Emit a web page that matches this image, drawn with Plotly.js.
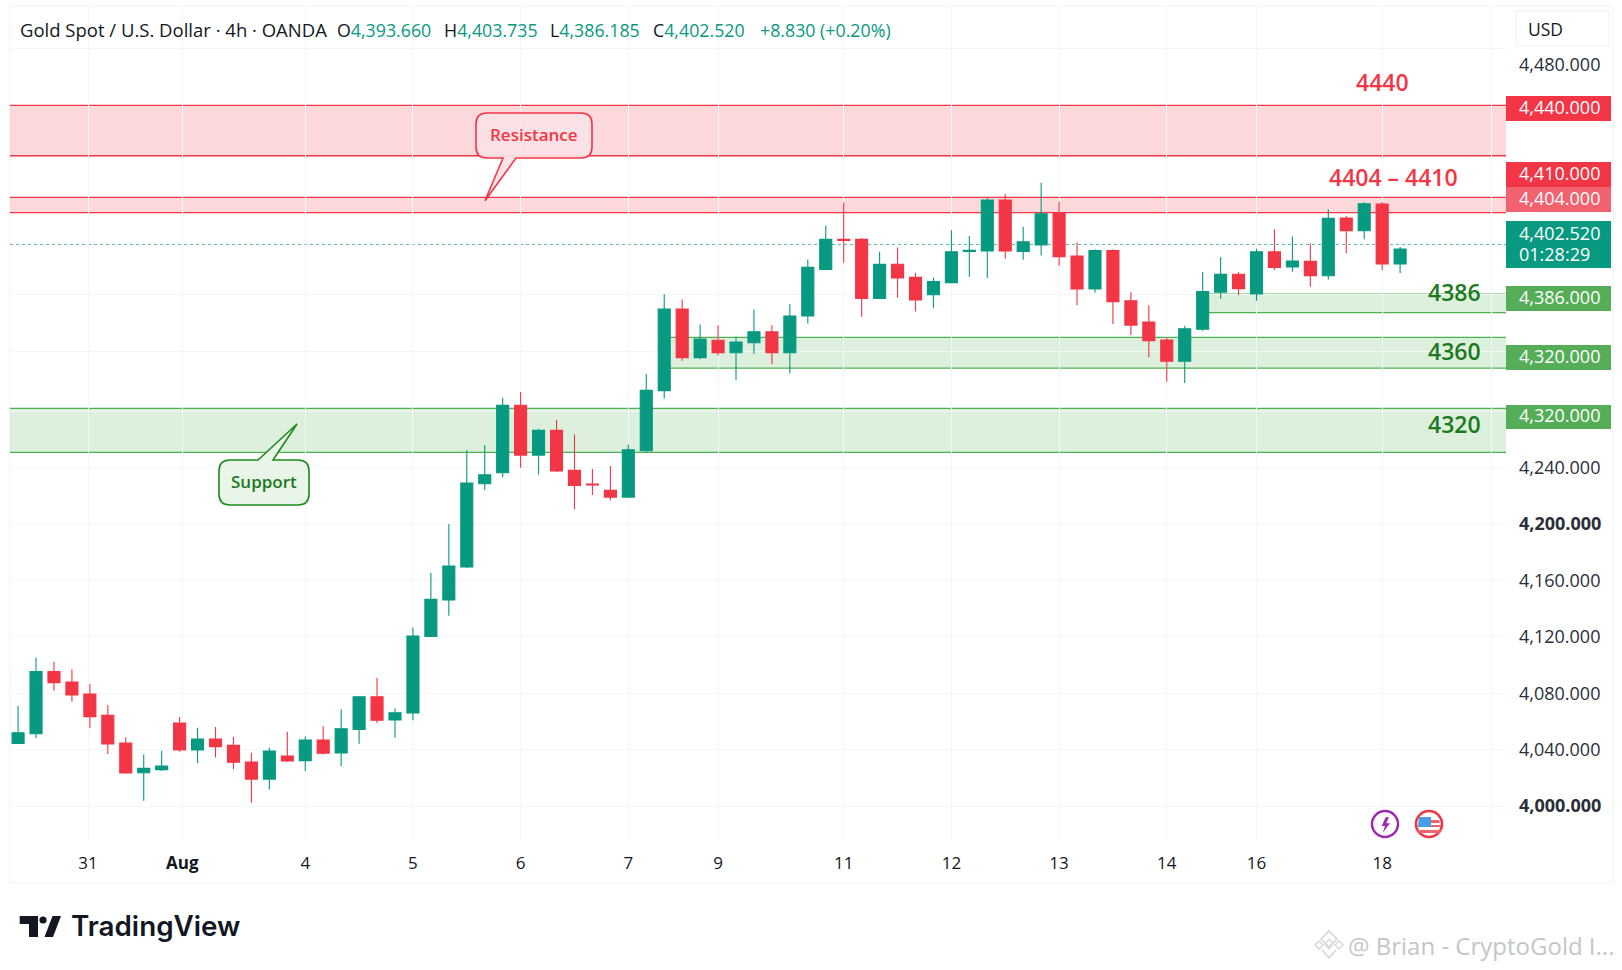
<!DOCTYPE html>
<html><head><meta charset="utf-8">
<script src="https://cdn.plot.ly/plotly-3.0.1.min.js"></script>
<style>html,body{margin:0;padding:0;background:#fff;overflow:hidden}</style>
</head><body><div id="chart" style="width:1622px;height:970px"></div>
<script>
const candleIndex = Array.from({length:78},(_,i)=>i);
const open_ = [4044.4,4051.3,4095.3,4087.9,4079.4,4064.3,4044.7,4023.6,4025.8,4058.9,4039.7,4047.5,4043.0,4031.2,4019.1,4035.5,4032.2,4046.8,4037.6,4054.4,4077.5,4061.0,4066.0,4120.3,4146.1,4169.5,4228.6,4236.4,4284.2,4248.9,4266.4,4238.1,4228.4,4223.9,4219.1,4252.0,4294.6,4352.5,4318.0,4330.3,4321.5,4328.6,4336.4,4321.5,4347.5,4380.6,4401.9,4401.9,4360.0,4384.2,4374.9,4362.6,4371.2,4393.4,4393.6,4429.8,4393.4,4397.9,4420.3,4390.1,4366.7,4393.9,4358.4,4343.3,4330.5,4315.4,4338.1,4364.5,4377.1,4363.1,4393.1,4382.3,4386.3,4376.1,4417.0,4408.0,4427.0,4384.4];
const high_ = [4070.9,4105.4,4102.4,4096.9,4086.5,4071.6,4048.7,4036.6,4039.2,4063.1,4055.6,4056.0,4048.9,4037.8,4041.4,4052.7,4049.4,4056.5,4068.6,4077.8,4091.0,4069.3,4126.7,4165.2,4200.0,4252.5,4256.0,4289.6,4293.6,4267.6,4273.8,4263.6,4239.0,4241.1,4256.3,4306.4,4362.9,4359.3,4341.6,4340.9,4332.9,4352.2,4340.9,4355.8,4387.7,4411.8,4428.1,4402.8,4393.1,4396.2,4378.3,4374.7,4408.3,4404.3,4431.2,4434.0,4410.9,4442.1,4428.4,4399.8,4394.8,4394.8,4364.3,4355.1,4332.4,4340.7,4378.7,4389.4,4378.7,4395.3,4409.0,4404.0,4399.1,4423.2,4418.4,4428.4,4428.4,4396.5];
const low_ = [4044.2,4048.0,4081.8,4074.0,4055.1,4036.9,4022.9,4003.8,4024.8,4038.5,4030.5,4034.5,4026.0,4002.4,4011.8,4031.2,4024.8,4036.6,4028.4,4044.2,4058.9,4048.5,4060.8,4120.3,4135.0,4168.8,4224.1,4233.1,4240.0,4235.2,4236.9,4210.4,4220.6,4216.8,4218.7,4250.6,4289.1,4315.8,4316.8,4319.6,4302.1,4320.8,4313.5,4306.9,4342.3,4379.9,4385.3,4347.0,4359.6,4360.5,4350.8,4353.4,4370.7,4375.4,4374.5,4388.2,4387.5,4390.5,4383.2,4355.1,4364.1,4341.8,4334.0,4318.2,4300.9,4300.0,4337.1,4359.8,4362.2,4358.4,4380.1,4379.0,4368.3,4373.5,4392.0,4401.9,4379.9,4378.0];
const close_ = [4052.0,4095.3,4087.5,4078.7,4063.4,4044.0,4023.4,4026.7,4028.4,4039.7,4047.5,4042.1,4031.0,4019.1,4039.0,4031.9,4046.8,4037.4,4054.8,4077.5,4060.8,4066.2,4120.6,4146.6,4170.2,4229.1,4235.0,4284.2,4248.9,4266.4,4237.6,4227.4,4227.7,4219.1,4252.7,4294.8,4352.5,4318.0,4331.2,4321.5,4329.1,4336.4,4321.5,4347.5,4382.0,4401.9,4401.2,4360.0,4384.2,4374.5,4358.9,4371.9,4393.1,4394.1,4429.8,4393.6,4400.2,4420.1,4389.6,4366.7,4393.9,4357.7,4341.1,4330.0,4315.4,4338.5,4364.8,4377.1,4366.9,4393.1,4382.0,4386.5,4376.1,4416.8,4408.0,4427.2,4384.4,4395.0];

const xTickVals = [3.9,9.15,16,22,28,34,39,46,52,58,64,69,76,82.1];
const xTickText = ['31','<b>Aug</b>','4','5','6','7','9','11','12','13','14','16','18',''];
const yTickVals = [4526,4240,4200,4160,4120,4080,4040,4000];
const yTickText = ['4,480.000','4,240.000','<b>4,200.000</b>','4,160.000','4,120.000','4,080.000','4,040.000','<b>4,000.000</b>'];
const yGridVals = [4537.6,4363,4322.7,4280,4240,4200,4160,4120,4080,4040,4000];

const lastPriceLine = 4398.3;
const zoneTop = [4496.9,4431.7,4363.1,4332.4,4282.0];
const zoneBottom = [4461.2,4420.8,4349.9,4310.6,4250.8];
const zoneStart = [-0.45,-0.45,66.3,36.35,-0.45];
const zoneKind = ['r','r','g','g','g'];

const xMin=-0.45, xMax=82.9, yMin=3975.2, yMax=4567.4;
const W=1622,H=970,L=10,R=116,T=6,B=129;
const fx=p=>(p-L)/(W-L-R), fy=p=>1-(p-T)/(H-T-B);
const FONT='"Open Sans", sans-serif';
const RED='#f23645', TEAL='#089981', GRN='#4caf50', DGRN='#1b7a1b', INK='#131722';

const shapes=[], annotations=[];
const text=(t,x,y,size,color,anchor='left',extra={})=>annotations.push({text:t,xref:'paper',yref:'paper',x:fx(x),y:fy(y),xanchor:anchor,yanchor:'middle',showarrow:false,font:Object.assign({family:FONT,size,color},extra),borderpad:0,borderwidth:0});
const poly=(pts,fill,line,lw=1,close=true,layer='above')=>shapes.push({type:'path',xref:'paper',yref:'paper',layer,path:pts.map((p,i)=>(i?'L':'M')+fx(p[0])+','+fy(p[1])).join(' ')+(close?' Z':''),fillcolor:fill,line:{color:line,width:line==='rgba(0,0,0,0)'?0:lw}});
const circle=(cx,cy,r,fill,line,lw)=>shapes.push({type:'circle',xref:'paper',yref:'paper',layer:'above',x0:fx(cx-r),x1:fx(cx+r),y0:fy(cy+r),y1:fy(cy-r),fillcolor:fill,line:{color:line,width:lw}});
const none='rgba(0,0,0,0)';

// frame
shapes.push({type:'rect',xref:'paper',yref:'paper',layer:'below',x0:0,x1:fx(1613),y0:fy(883),y1:1,line:{color:'#f1f3f6',width:1},fillcolor:none});

// zones
zoneTop.forEach((t,i)=>{
  const c=zoneKind[i]==='r'?RED:GRN, f=zoneKind[i]==='r'?'rgba(242,54,69,0.19)':'rgba(76,175,80,0.19)';
  shapes.push({type:'rect',xref:'x',yref:'y',layer:'below',x0:zoneStart[i],x1:xMax,y0:zoneBottom[i],y1:t,fillcolor:f,line:{width:0}});
  [t,zoneBottom[i]].forEach(v=>shapes.push({type:'line',xref:'x',yref:'y',layer:'below',x0:zoneStart[i],x1:xMax,y0:v,y1:v,line:{color:c,width:1.3}}));
});
// last price line
shapes.push({type:'line',xref:'x',yref:'y',layer:'below',x0:xMin,x1:xMax,y0:lastPriceLine,y1:lastPriceLine,line:{color:'rgba(8,153,129,0.7)',width:1,dash:'dot'}});

// callouts
function bubble(x0,y0,x1,y1,r,tip,b1,b2,top,fill,line){
  const X=fx,Y=fy;
  let d='M'+X(x0+r)+','+Y(y0);
  if(top) d+=' L'+X(b1)+','+Y(y0)+' L'+X(tip[0])+','+Y(tip[1])+' L'+X(b2)+','+Y(y0);
  d+=' L'+X(x1-r)+','+Y(y0)+' Q'+X(x1)+','+Y(y0)+' '+X(x1)+','+Y(y0+r);
  d+=' L'+X(x1)+','+Y(y1-r)+' Q'+X(x1)+','+Y(y1)+' '+X(x1-r)+','+Y(y1);
  if(!top) d+=' L'+X(b2)+','+Y(y1)+' L'+X(tip[0])+','+Y(tip[1])+' L'+X(b1)+','+Y(y1);
  d+=' L'+X(x0+r)+','+Y(y1)+' Q'+X(x0)+','+Y(y1)+' '+X(x0)+','+Y(y1-r);
  d+=' L'+X(x0)+','+Y(y0+r)+' Q'+X(x0)+','+Y(y0)+' '+X(x0+r)+','+Y(y0)+' Z';
  shapes.push({type:'path',xref:'paper',yref:'paper',layer:'above',path:d,fillcolor:fill,line:{color:line,width:1.6}});
}
bubble(476,113,592,158,11,[485,200.7],503,516,false,'rgba(250,226,229,0.92)',RED);
text('Resistance',534,134.5,17,RED,'center',{weight:600});
bubble(219,460,309,505,11,[297,424],258,273,true,'rgba(232,244,232,0.95)','#1d8a1d');
text('Support',264,481.5,17,DGRN,'center',{weight:600});

// level captions
text('4440',1382,82,23,RED,'center',{weight:600});
text('4404 – 4410',1393,177,23,RED,'center',{weight:600});
text('4386',1454,292,23,DGRN,'center',{weight:600});
text('4360',1454,351,23,DGRN,'center',{weight:600});
text('4320',1454,424,23,DGRN,'center',{weight:600});

// price tags
const tags=[[96,121,RED,'4,440.000',107],[162,187,RED,'4,410.000',173],[187,212,'#f2616e','4,404.000',198],[286,311,'#55ad58','4,386.000',296.5],[345,370,'#55ad58','4,320.000',355.5],[405,429,'#55ad58','4,320.000',415]];
tags.forEach(t=>{
  shapes.push({type:'rect',xref:'paper',yref:'paper',layer:'above',x0:fx(1506),x1:fx(1611),y0:fy(t[1]),y1:fy(t[0]),fillcolor:t[2],line:{width:0}});
  text(t[3],1518.5,t[4],18,'#fff','left');
});
shapes.push({type:'rect',xref:'paper',yref:'paper',layer:'above',x0:fx(1506),x1:fx(1611),y0:fy(268),y1:fy(221),fillcolor:TEAL,line:{width:0}});
text('4,402.520',1518.5,233,18,'#fff','left');
text('01:28:29',1518.5,254.5,18,'#fff','left');

// USD button
shapes.push({type:'rect',xref:'paper',yref:'paper',layer:'above',x0:fx(1516),x1:fx(1609),y0:fy(46),y1:fy(11),fillcolor:'#fff',line:{color:'#eceef2',width:1}});
text('USD',1528,29,17.5,INK,'left');

// header
text('Gold Spot / U.S. Dollar · 4h · OANDA',19.5,30,18.5,INK);
const hdrLetter=[['O',337,'4,393.660'],['H',444,'4,403.735'],['L',550,'4,386.185'],['C',653,'4,402.520']];
hdrLetter.forEach(h=>text(h[0]+'<span style="color:'+TEAL+'">'+h[2]+'</span>',h[1],30,17.8,INK));
text('+8.830 (+0.20%)',759.5,30,17.8,TEAL);

// event icons
circle(1385,824,13,'#fff','#9c27b0',2.4);
poly([[1385.7,817.3],[1381.7,826],[1385,826],[1382.7,832.7],[1390,823.3],[1386.3,823.3],[1389,817.3]],'#9c27b0',none);
circle(1429,824,13,'#fff',RED,2.6);
poly([[1419,817],[1431,817],[1431,827],[1418,827]],'#4a9be8',none);
poly([[1431,820],[1439,820],[1440,823],[1431,823]],'#f0626e',none);
poly([[1431,825],[1441,825],[1441,827],[1431,827]],'#f0626e',none);
poly([[1417,830],[1441,830],[1440,833],[1419,833]],'#f0626e',none);

// TradingView logo
poly([[19.7,916],[38,916],[38,937],[29,937],[29,924],[19.7,924]],INK,none);
circle(43,920,3.6,INK,INK,0);
poly([[52.5,916],[61,916],[53,937],[44.5,937]],INK,none);
text('TradingView',71,926.5,27.8,INK,'left',{family:'Inter, sans-serif',weight:600});

// watermark
const WM='#d4d6d8';
poly([[1329,931],[1337,939],[1329,947],[1321,939]],none,WM,1.6);
poly([[1329,939],[1333,944],[1329,949],[1325,944]],none,WM,1.4);
poly([[1319,941],[1323,945],[1319,949],[1315,945]],none,WM,1.4);
poly([[1339,941],[1343,945],[1339,949],[1335,945]],none,WM,1.4);
poly([[1322,950],[1329,958],[1336,950]],none,WM,1.6,false);
text('@ Brian - CryptoGold I...',1348,945,24,'#c4c6c9');

const data=[{
  type:'candlestick',x:candleIndex,open:open_,high:high_,low:low_,close:close_,
  increasing:{line:{color:TEAL,width:1.1},fillcolor:TEAL},
  decreasing:{line:{color:RED,width:1.1},fillcolor:RED},
  whiskerwidth:0,hoverinfo:'skip',showlegend:false
}];
const layout={
  width:W,height:H,margin:{l:L,r:R,t:T,b:B,pad:0},paper_bgcolor:'#fff',plot_bgcolor:'#fff',
  showlegend:false,boxgap:0.33,boxgroupgap:0,dragmode:false,
  xaxis:{type:'linear',range:[xMin,xMax],rangeslider:{visible:false},tickmode:'array',tickvals:xTickVals,ticktext:xTickText,
    showgrid:true,gridcolor:'#f4f5f7',gridwidth:1,zeroline:false,showline:false,ticks:'',ticklabelstandoff:10,tickangle:0,
    tickfont:{family:FONT,size:17,color:INK}},
  yaxis:{type:'linear',side:'right',range:[yMin,yMax],tickmode:'array',tickvals:yTickVals,ticktext:yTickText,
    showgrid:false,zeroline:false,showline:false,ticks:'',ticklabelstandoff:12,
    minor:{tickmode:'array',tickvals:yGridVals,showgrid:true,gridcolor:'#f5f6f8',gridwidth:1,ticks:''},
    tickfont:{family:FONT,size:18,color:'#2a2e39'}},
  shapes,annotations
};
Plotly.newPlot('chart',data,layout,{displayModeBar:false,staticPlot:true});
</script></body></html>
